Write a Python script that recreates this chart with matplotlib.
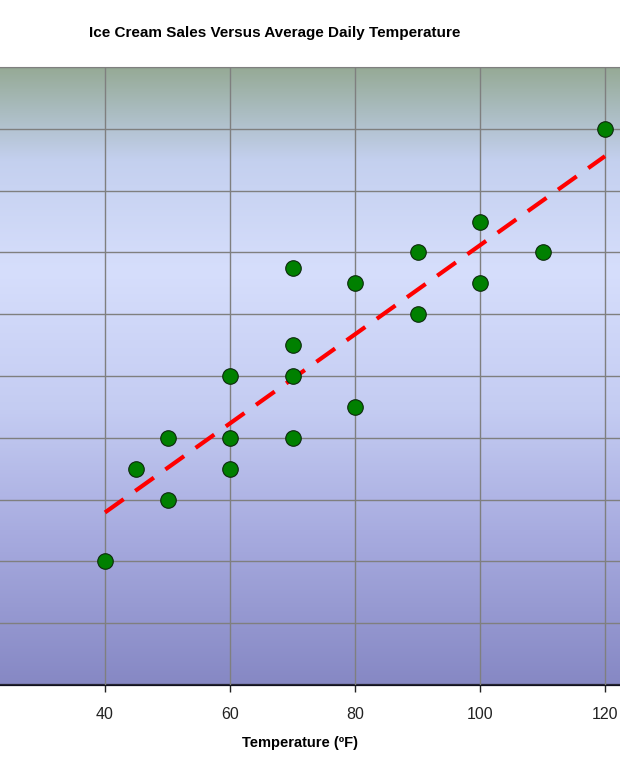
import matplotlib
matplotlib.use("Agg")
import matplotlib.pyplot as plt
import numpy as np
from matplotlib.colors import LinearSegmentedColormap

# data (y in grid units, the y labels are cropped away)
temperature = [40, 45, 50, 50, 60, 60, 60, 70, 70, 70, 70,
               80, 80, 90, 90, 100, 100, 110, 120]
sales = [2.0, 3.5, 4.0, 3.0, 5.0, 4.0, 3.5, 6.75, 5.5, 5.0, 4.0,
         6.5, 4.5, 7.0, 6.0, 7.5, 6.5, 7.0, 9.0]
x_ticks = [40, 60, 80, 100, 120]

plt.rcParams['font.family'] = ['Liberation Sans', 'DejaVu Sans']

fig = plt.figure(figsize=(6.2, 7.75), dpi=100)
# plot area runs past both edges of the picture
ax = fig.add_axes([-20 / 620, 90 / 775, 687.5 / 620, 618 / 775])

# background gradient (top greenish grey -> light lavender -> deeper blue)
stops = [(0.0, '#96aa96'), (0.07, '#aabcc0'), (0.15, '#c4d0ef'),
         (0.33, '#d6defc'), (0.555, '#c4ccf2'), (0.75, '#a8ace0'),
         (1.0, '#8688c4')]
cmap = LinearSegmentedColormap.from_list('bg', stops)
grad = np.linspace(0, 1, 256).reshape(-1, 1)
ax.imshow(grad, aspect='auto', cmap=cmap, extent=[0, 1, 0, 1],
          transform=ax.transAxes, zorder=0)

ax.set_xlim(20, 130)
ax.set_ylim(0, 10)
ax.set_xticks(x_ticks)
ax.set_yticks(np.arange(0, 11, 1))
ax.grid(True, color='#7f7f7f', linewidth=1, zorder=1)
ax.set_axisbelow(False)

# least-squares trend line
x = np.array(temperature, dtype=float)
y = np.array(sales)
slope, intercept = np.polyfit(x, y, 1)
xs = np.array([x.min(), x.max()])
ax.plot(xs, slope * xs + intercept, color='#ff0000', linewidth=3,
        dashes=(5.5, 3.4), dash_capstyle='butt', zorder=3)

ax.scatter(temperature, sales, s=125, color='#008000', edgecolor='#0d2a0d',
           linewidth=0.8, zorder=4)

for side in ['left', 'right']:
    ax.spines[side].set_visible(False)
ax.spines['top'].set_color('#808080')
ax.spines['bottom'].set_color('#101020')
ax.spines['bottom'].set_linewidth(1.6)

ax.tick_params(axis='x', length=5, width=1, labelsize=11.5, pad=11,
               colors='#222222')
ax.tick_params(axis='y', length=0, labelleft=False)

fig.text(275 / 620, 1 - 33 / 775,
         'Ice Cream Sales Versus Average Daily Temperature',
         ha='center', va='center', fontsize=11, fontweight='bold')
fig.text(300 / 620, 1 - 743 / 775, 'Temperature (ºF)',
         ha='center', va='center', fontsize=10.5, fontweight='bold')

fig.savefig('out.png', dpi=100)
